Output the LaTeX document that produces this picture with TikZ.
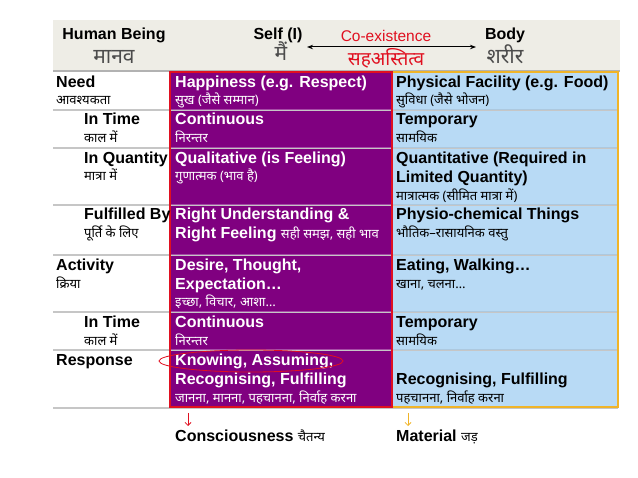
\documentclass[tikz,border=0pt]{standalone}
\usepackage{fontspec}
\setmainfont{Liberation Sans}
\newfontfamily\hin[Script=Devanagari]{Noto Sans}
\usetikzlibrary{arrows.meta}
\definecolor{purp}{HTML}{800080}
\definecolor{bluec}{HTML}{B8DAF5}
\definecolor{beig}{HTML}{EEEDE6}
\definecolor{orng}{HTML}{F0B428}
\definecolor{redc}{HTML}{E01020}
\tikzset{
 en/.style={anchor=base west,inner sep=0pt,font=\bfseries\fontsize{16}{19}\selectfont},
 hi/.style={anchor=base west,inner sep=0pt,font=\hin\fontsize{13}{15}\selectfont},
 wen/.style={en,text=white},
 whi/.style={hi,text=white},
 bigh/.style={anchor=base,inner sep=0pt,font=\hin\fontsize{21}{24}\selectfont,text=black!70},
 rowline/.style={draw=gray!45,line width=1.2pt},
}
\begin{document}
\begin{tikzpicture}[x=1pt,y=-1pt]
\useasboundingbox (0,0) rectangle (638,478);
\fill[beig] (53,20) rectangle (620,71);
\draw[gray!60,line width=1.5pt] (53,71) -- (620,71);
\fill[purp] (170,72) rectangle (392,407);
\fill[bluec] (392,72) rectangle (618,407);
\foreach \y in {110,148,205,255,312,350} \draw[rowline] (53,\y) -- (618,\y);
\foreach \y in {110,148,205,255,312,350} \draw[purp!70!white,line width=1pt] (171,\y) -- (391,\y);
\foreach \y in {110,148,205,255,312,350} \draw[bluec!80!gray,line width=1pt] (393,\y) -- (617,\y);
\draw[rowline] (53,408) -- (618,408);
\draw[orng,line width=2.5pt] (392,72) rectangle (618,407);
\draw[redc,line width=2.5pt] (170,72) rectangle (392,407);
% header
\node[en,anchor=base] (hb) at (114,40) {Human Being};
\node[bigh] (hbh) at (114,64) {मानव};
\node[en,anchor=base] (sf) at (278,40) {Self (I)};
\node[bigh] (sfh) at (281,61) {मैं};
\node[en,anchor=base] (bd) at (505,40) {Body};
\node[bigh] (bdh) at (505,64) {शरीर};
\coordinate (al) at (307,47); \coordinate (ar) at (476,47);
\draw[{Stealth[length=6pt]}-{Stealth[length=6pt]},line width=1pt] (al) -- (ar);
\node[anchor=base,inner sep=0pt,text=redc,font=\fontsize{15.5}{18}\selectfont] (co) at (386,42) {Co-existence};
\node[anchor=base,inner sep=0pt,text=redc,font=\hin\fontsize{19}{22}\selectfont] (coh) at (386,66) {सहअस्तित्व};
% left column
\node[en] (l1) at (56,88) {Need}; \node[hi] (l1h) at (56,105) {आवश्यकता};
\node[en] (l2) at (84,125) {In Time}; \node[hi] (l2h) at (84,143) {काल में};
\node[en] (l3) at (84,164) {In Quantity}; \node[hi] (l3h) at (84,181) {मात्रा में};
\node[en] (l4) at (84,220) {Fulfilled By}; \node[hi] (l4h) at (84,238) {पूर्ति के लिए};
\node[en] (l5) at (56,271) {Activity}; \node[hi] (l5h) at (56,289) {क्रिया};
\node[en] (l6) at (84,328) {In Time}; \node[hi] (l6h) at (84,346) {काल में};
\node[en] (l7) at (56,366) {Response};
% purple column
\node[wen] (p1) at (175,88) {Happiness (e.g. Respect)}; \node[whi] (p1h) at (175,105) {सुख (जैसे सम्मान)};
\node[wen] (p2) at (175,125) {Continuous}; \node[whi] (p2h) at (175,143) {निरन्तर};
\node[wen] (p3) at (175,164) {Qualitative (is Feeling)}; \node[whi] (p3h) at (175,181) {गुणात्मक (भाव है)};
\node[wen] (p4) at (175,220) {Right Understanding \&};
\node[wen] (p4b) at (175,239) {Right Feeling \hin\mdseries\fontsize{13}{15}\selectfont सही समझ, सही भाव};
\node[wen] (p5) at (175,271) {Desire, Thought,};
\node[wen] (p5b) at (175,290) {Expectation…}; \node[whi] (p5h) at (175,307) {इच्छा, विचार, आशा…};
\node[wen] (p6) at (175,328) {Continuous}; \node[whi] (p6h) at (175,346) {निरन्तर};
\node[wen] (p7) at (175,366) {Knowing, Assuming,};
\node[wen] (p7b) at (175,385) {Recognising, Fulfilling}; \node[whi] (p7h) at (175,403) {जानना, मानना, पहचानना, निर्वाह करना};
\draw[redc,line width=0.8pt] (251,361) ellipse (92 and 11);
% blue column
\node[en] (b1) at (396,88) {Physical Facility (e.g. Food)}; \node[hi] (b1h) at (396,105) {सुविधा (जैसे भोजन)};
\node[en] (b2) at (396,125) {Temporary}; \node[hi] (b2h) at (396,143) {सामयिक};
\node[en] (b3) at (396,164) {Quantitative (Required in};
\node[en] (b3b) at (396,183) {Limited Quantity)}; \node[hi] (b3h) at (396,201) {मात्रात्मक (सीमित मात्रा में)};
\node[en] (b4) at (396,220) {Physio-chemical Things}; \node[hi] (b4h) at (396,238) {भौतिक–रासायनिक वस्तु};
\node[en] (b5) at (396,271) {Eating, Walking…}; \node[hi] (b5h) at (396,289) {खाना, चलना…};
\node[en] (b6) at (396,328) {Temporary}; \node[hi] (b6h) at (396,346) {सामयिक};
\node[en] (b7) at (396,385) {Recognising, Fulfilling}; \node[hi] (b7h) at (396,403) {पहचानना, निर्वाह करना};
% bottom
\coordinate (ra) at (188,413); \coordinate (rb) at (188,426);
\draw[redc,-{Straight Barb[length=3pt]},line width=0.8pt] (ra) -- (rb);
\coordinate (oa) at (408,413); \coordinate (ob) at (408,426);
\draw[orng,-{Straight Barb[length=3pt]},line width=0.8pt] (oa) -- (ob);
\node[en] (cs) at (175,442) {Consciousness \hin\mdseries\fontsize{13}{15}\selectfont चैतन्य};
\node[en] (mt) at (396,442) {Material \hin\mdseries\fontsize{13}{15}\selectfont जड़};
\end{tikzpicture}
\end{document}
